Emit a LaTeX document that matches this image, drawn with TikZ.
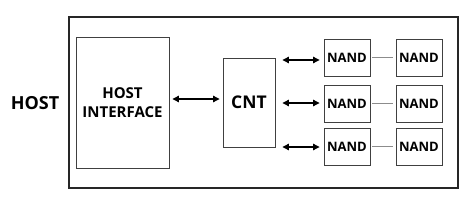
\documentclass[tikz,border=0pt]{standalone}
\usepackage{fontspec}
\setmainfont{Open Sans}
\usetikzlibrary{arrows.meta}
\begin{document}
\begin{tikzpicture}[x=1pt,y=-1pt,
  box/.style={draw=black!75,line width=0.9pt,inner sep=0pt},
  nand/.style={box,minimum width=46pt,minimum height=37pt,font=\bfseries\fontsize{13}{14}\selectfont},
  dbl/.style={{Triangle[length=6.5pt,width=6.5pt]}-{Triangle[length=6.5pt,width=6.5pt]},line width=1.1pt},
  link/.style={draw=black!45,line width=0.6pt}]
\useasboundingbox (0,0) rectangle (474,206);
\node[draw=black!85,line width=1.2pt,minimum width=389pt,minimum height=171pt,inner sep=0pt] (outer) at (263.5,102.5) {};
\node[font=\bfseries\fontsize{18}{20}\selectfont] (host) at (35,103) {HOST};
\node[box,minimum width=93pt,minimum height=131pt,align=center,font=\bfseries\fontsize{15}{19}\selectfont] (hi) at (122.5,102.5) {HOST\\INTERFACE};
\node[box,minimum width=52pt,minimum height=89pt,font=\bfseries\fontsize{17.5}{20}\selectfont] (cnt) at (249,102.5) {CNT};
\foreach \i/\y in {1/57.5,2/103.5,3/146.5}{
  \node[nand] (a\i) at (347,\y) {NAND};
  \node[nand] (b\i) at (419,\y) {NAND};
  \draw[link] ([xshift=2pt]a\i.east) -- ([xshift=-3pt]b\i.west);
}
\foreach \i/\y in {1/60,2/103,3/147}{
  \draw[dbl] ([xshift=7pt]cnt.east |- 0,\y) -- ([xshift=-4pt]a\i.west |- 0,\y);
}
\draw[dbl] ([xshift=3pt]hi.east |- 0,99) -- ([xshift=-3pt]cnt.west |- 0,99);
\end{tikzpicture}
\end{document}
